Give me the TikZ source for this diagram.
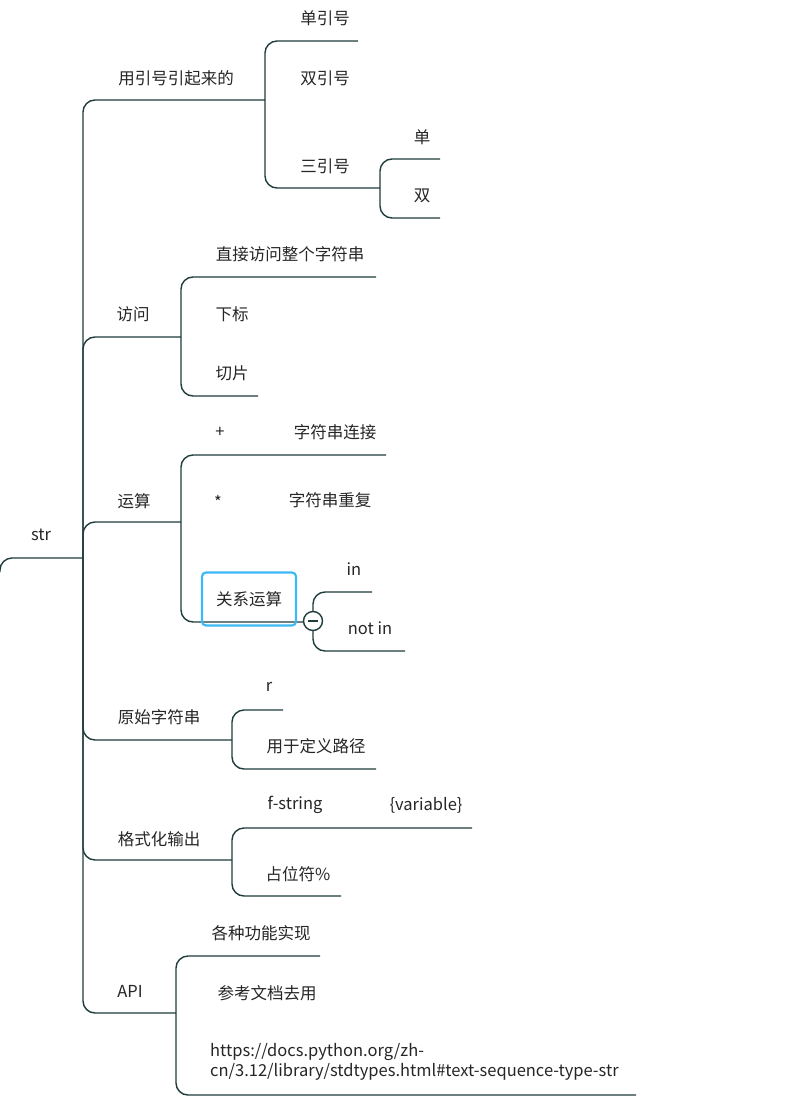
\documentclass[tikz,border=0pt]{standalone}
\usepackage{fontspec}
\setmainfont{Open Sans}
\newfontfamily\cjk{Noto Sans CJK SC}
\begin{document}
\begin{tikzpicture}[x=1pt,y=-1pt,
  ln/.style={draw=lc,line width=1.4pt,rounded corners=12pt},
  t/.style={font=\cjk\fontsize{16.5}{20}\selectfont,text=black!85,inner sep=0pt}]
\definecolor{lc}{HTML}{1F3D3D}
\definecolor{bl}{HTML}{3DB9F5}
\useasboundingbox (0,0) rectangle (804,1113);
\fill[white] (0,0) rectangle (804,1113);
% root
\node[t] (str) at (41,535) {str};
\coordinate (r) at (83,558);
\draw[ln] (0,572) |- (r);
% level 1
\foreach \y/\e in {100/265,337/181,522/181,740/232,860/232,1013/176}
  \draw[ln] (r) |- (\e,\y);
\node[t] (q) at (176,78) {用引号引起来的};
\node[t] (v) at (133,314) {访问};
\node[t] (o) at (134,501) {运算};
\node[t] (raw) at (159,717) {原始字符串};
\node[t] (fmt) at (159,839) {格式化输出};
\node[t] (api) at (130,991) {API};
% quotes
\coordinate (qp) at (265,100);
\draw[ln] (qp) |- (358,41);
\draw[ln] (qp) |- (380,188);
\node[t] (q1) at (325,18) {单引号};
\node[t] (q2) at (325,78) {双引号};
\node[t] (q3) at (325,166) {三引号};
\coordinate (tp) at (380,188);
\draw[ln] (tp) |- (440,159);
\draw[ln] (tp) |- (440,218);
\node[t] (t1) at (422,137) {单};
\node[t] (t2) at (422,196) {双};
% access
\coordinate (vp) at (181,337);
\draw[ln] (vp) |- (376,277);
\draw[ln] (vp) |- (258,396);
\node[t] (v1) at (290,254) {直接访问整个字符串};
\node[t] (v2) at (232,314) {下标};
\node[t] (v3) at (232,373) {切片};
% ops
\coordinate (op) at (181,522);
\draw[ln] (op) |- (386,455);
\draw[ln] (op) |- (303,622);
\node[t] (o1a) at (220,432) {+};
\node[t] (o1b) at (335,432) {字符串连接};
\node[t] (o2a) at (218,502) {*};
\node[t] (o2b) at (330,500) {字符串重复};
\node[t,draw=bl,line width=2.2pt,rounded corners=4pt,minimum width=94pt,minimum height=53pt] (o3) at (249,599) {关系运算};
\node[circle,draw=lc,line width=1.4pt,fill=white,minimum size=19pt,inner sep=0pt] (c) at (313,621) {};
\draw[lc,line width=1.4pt] (c.center)+(-5,0) -- +(5,0);
\draw[ln] (c.north) |- (372,592);
\draw[ln] (c.south) |- (405,651);
\node[t] (in) at (354,569) {in};
\node[t] (nin) at (370,628) {not in};
% raw
\coordinate (rp) at (232,740);
\draw[ln] (rp) |- (283,710);
\draw[ln] (rp) |- (376,769);
\node[t] (r1) at (269,687) {r};
\node[t] (r2) at (316,746) {用于定义路径};
% format
\coordinate (fp) at (232,860);
\draw[ln] (fp) |- (472,828);
\draw[ln] (fp) |- (341,896);
\node[t] (f1a) at (295,805) {f-string};
\node[t] (f1b) at (426,805) {\{variable\}};
\node[t] (f2) at (298,874) {占位符\%};
% api
\coordinate (ap) at (176,1013);
\draw[ln] (ap) |- (320,956);
\draw[ln] (ap) |- (636,1095);
\node[t] (a1) at (261,933) {各种功能实现};
\node[t] (a2) at (267,993) {参考文档去用};
\node[t,anchor=west,align=left] (a3) at (210,1062) {https://docs.python.org/zh-\\cn/3.12/library/stdtypes.html\#text-sequence-type-str};
\end{tikzpicture}
\end{document}
